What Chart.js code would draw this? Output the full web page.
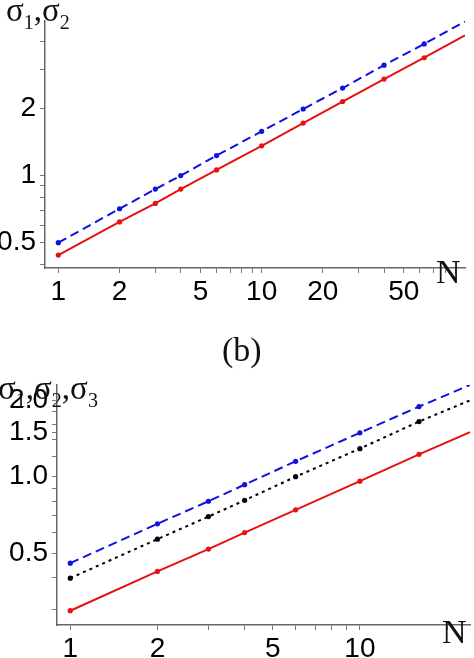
<!DOCTYPE html>
<html><head><meta charset="utf-8">
<script src="https://cdn.jsdelivr.net/npm/chart.js@4"></script>
<style>
body{margin:0;background:#fff;width:474px;height:658px;position:relative;overflow:hidden;font-family:"Liberation Serif",serif}
.p{position:absolute;left:0;width:474px}
.t{position:absolute;font-family:"Liberation Serif",serif;font-size:33px;color:#111;white-space:nowrap;line-height:1}
sub{font-size:20px}
</style></head><body>
<div class="p" style="top:0;height:300px"><canvas id="c1"></canvas></div>
<div class="p" style="top:358px;height:300px"><canvas id="c2"></canvas></div>
<div class="t" style="left:6px;top:-6px">σ<sub>1</sub>,σ<sub>2</sub></div>
<div class="t" style="left:436px;top:255px;font-size:34px">N</div>
<div class="t" style="left:222px;top:333px;font-size:34px">(b)</div>
<div class="t" style="left:-2px;top:372px">σ<sub>1</sub>,σ<sub>2</sub>,σ<sub>3</sub></div>
<div class="t" style="left:442px;top:615px;font-size:34px">N</div>
<script>
// Panel (a)
const aN = [1,2,3,4,6,10,16,25,40,63,100];
const aRed = [0.44,0.62,0.75,0.87,1.06,1.36,1.72,2.15,2.71,3.38,4.26];
const aBlue = [0.50,0.71,0.87,1.0,1.23,1.58,1.99,2.47,3.13,3.90,4.91];
const aXTicks = [1,2,5,10,20,50];
const aXMinor = [3,4,6,7,8,9,30,40,60,70,80,90];
const aYTicks = [0.5,1,2];
const aYMinor = [0.4,0.6,0.7,0.8,0.9,3,4];
// Panel (b)
const bN = [1,2,3,4,6,10,16,24];
const bRed = [0.296,0.423,0.518,0.602,0.74,0.96,1.225,1.50];
const bBlack = [0.398,0.567,0.696,0.807,1.0,1.29,1.65,2.0];
const bBlue = [0.456,0.652,0.80,0.93,1.15,1.49,1.89,2.30];
const bXTicks = [1,2,5,10];
const bXMinor = [3,4,6,7,8,9,20];
const bYTicks = ['0.5','1.0','1.5','2.0'];
const bYMinor = [0.3,0.4,0.6,0.7,0.8,0.9,1.2,1.4,1.6,1.8];

function ds(xs, ys, color, dash){
  const n = xs.length;
  return {data: xs.map((x,i)=>({x, y: ys[i]})), borderColor: color, backgroundColor: color,
    borderWidth: 2, borderDash: dash, pointRadius: xs.map((_, i)=> i===n-1?0:2.6),
    pointBorderWidth:0, tension:0};
}
function mk(id, sets, xr, yr, xt, xm, yt, ym, yw, pad){
  new Chart(document.getElementById(id), {
    type:'line',
    data:{datasets:sets},
    options:{
      responsive:true, maintainAspectRatio:false, animation:false,
      layout:{padding:pad},
      plugins:{legend:{display:false}, tooltip:{enabled:false}},
      scales:{
        x:{type:'logarithmic', min:xr[0], max:xr[1],
          afterBuildTicks:s=>{s.ticks=[...xt.map(v=>({value:+v,label:String(v)})), ...xm.map(v=>({value:v,label:''}))];},
          afterFit:s=>{s.height=pad.xh;},
          ticks:{color:'#000', font:{family:'Liberation Sans', size:28}, maxRotation:0, autoSkip:false, padding:2, callback:function(v,i,t){return t[i].label;}},
          grid:{drawOnChartArea:false, tickLength:5, color:'#777'}, border:{color:'#666', width:1.5}},
        y:{type:'logarithmic', min:yr[0], max:yr[1],
          afterBuildTicks:s=>{s.ticks=[...yt.map(v=>({value:+v,label:String(v)})), ...ym.map(v=>({value:v,label:''}))];},
          afterFit:s=>{s.width=yw;},
          ticks:{color:'#000', font:{family:'Liberation Sans', size:28}, autoSkip:false, padding:4, callback:function(v,i,t){return t[i].label;}},
          grid:{drawOnChartArea:false, tickLength:5, color:'#777'}, border:{color:'#666', width:1.5}}
      }
    }
  });
}
mk('c1', [ds(aN,aRed,'#e81010',[]), ds(aN,aBlue,'#1010e0',[9,5])],
   [0.86,100],[0.385,4.95],aXTicks,aXMinor,aYTicks,aYMinor,45,{top:20,right:9,left:0,bottom:0,xh:32});
mk('c2', [ds(bN,bRed,'#e81010',[]), ds(bN,bBlack,'#000',[3,4]), ds(bN,bBlue,'#1010e0',[9,5])],
   [0.9,24],[0.26,2.3],bXTicks,bXMinor,bYTicks,bYMinor,57,{top:27,right:0,left:0,bottom:0,xh:33});
</script>
</body></html>
